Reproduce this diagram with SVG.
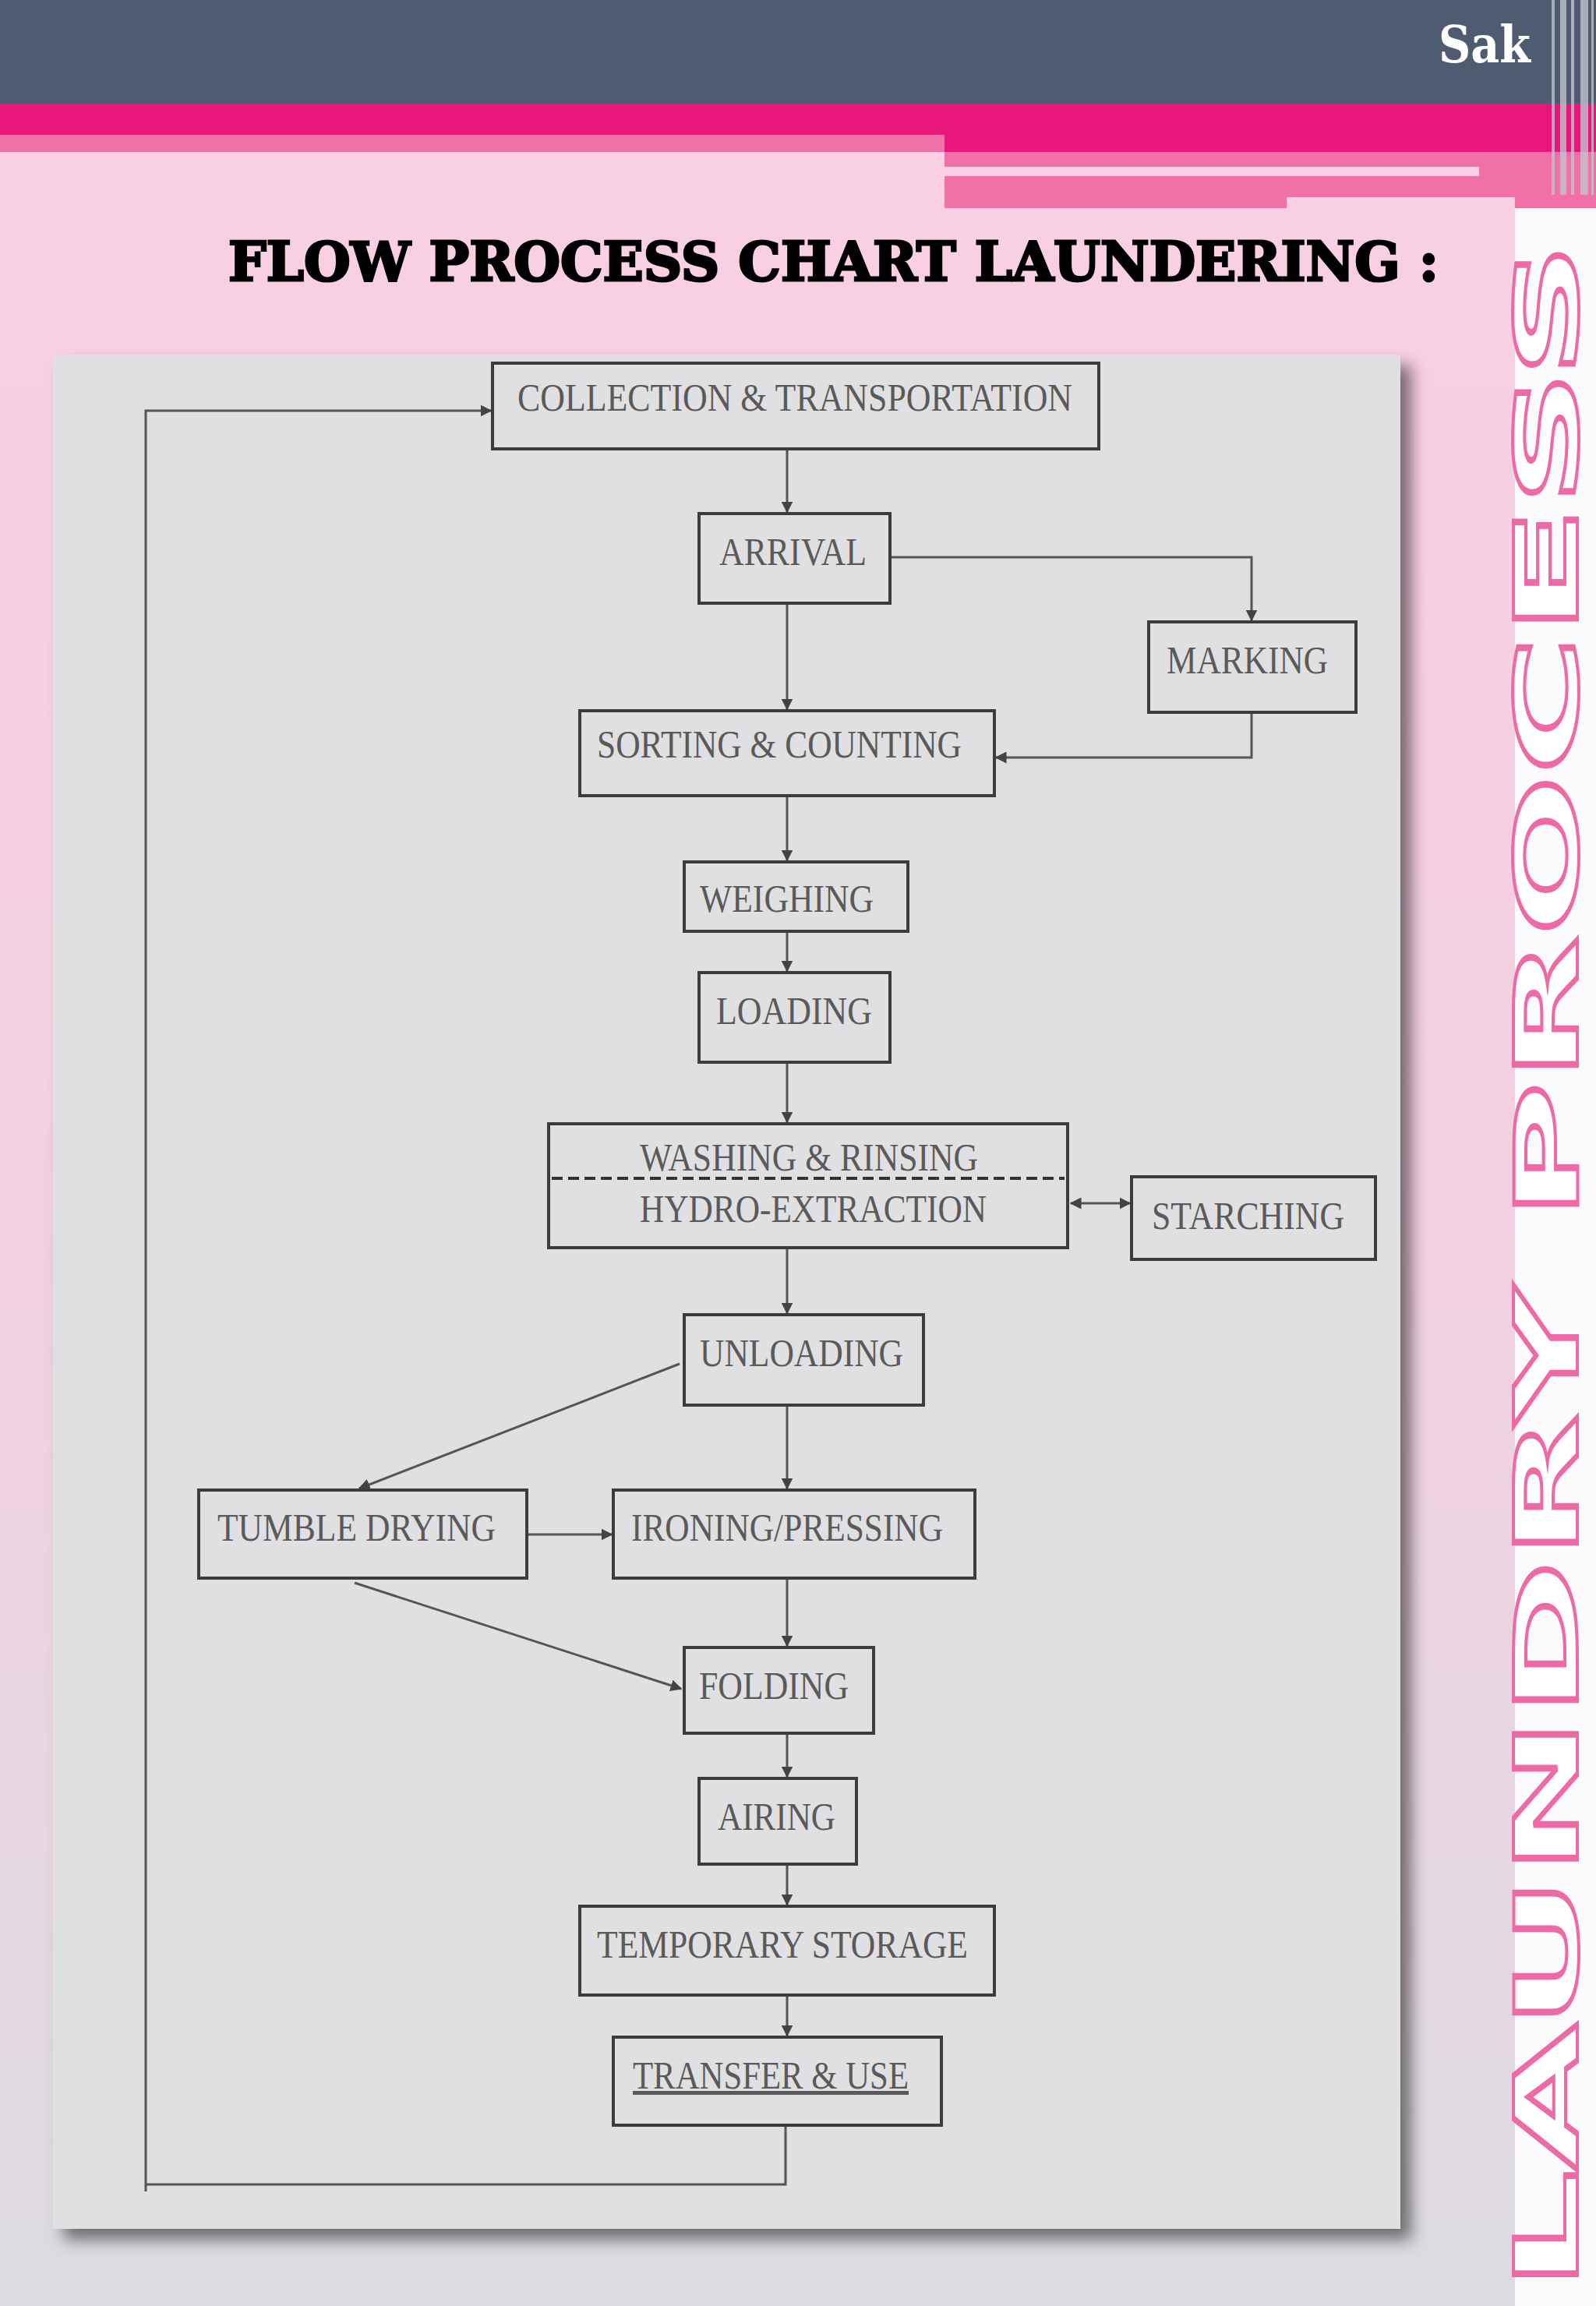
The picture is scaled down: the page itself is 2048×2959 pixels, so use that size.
<svg xmlns="http://www.w3.org/2000/svg" width="2048" height="2959" viewBox="0 0 2048 2959">
<defs>
<linearGradient id="bg" x1="0" y1="0" x2="0" y2="1"><stop offset="0" stop-color="#fbd0e4"/><stop offset="0.5" stop-color="#f3cfe0"/><stop offset="1" stop-color="#dcdbdf"/></linearGradient>
<filter id="sh" x="-5%" y="-5%" width="115%" height="115%"><feGaussianBlur in="SourceAlpha" stdDeviation="10"/><feOffset dx="14" dy="14"/><feComponentTransfer><feFuncA type="linear" slope="0.5"/></feComponentTransfer><feMerge><feMergeNode/><feMergeNode in="SourceGraphic"/></feMerge></filter>
<marker id="ah" viewBox="0 0 10 10" refX="9" refY="5" markerWidth="5" markerHeight="5" orient="auto-start-reverse"><path d="M0,0 L10,5 L0,10 z" fill="#444"/></marker>
<style>
.box{fill:none;stroke:#3c3c3c;stroke-width:4}
.lbl{font-family:"Liberation Serif",serif;font-size:50px;fill:#5a5a5a;text-anchor:start}
.c{fill:none;stroke:#555;stroke-width:3}
</style>
</defs>
<rect width="2048" height="2959" fill="url(#bg)"/>
<rect x="1944" y="250" width="104" height="2709" fill="#fbfbfd"/>
<rect width="2048" height="133" fill="#4f5b70"/>
<rect y="133" width="2048" height="62" fill="#e8177b"/>
<rect y="173" width="1212" height="22" fill="#f070a8"/>
<rect x="1212" y="195" width="836" height="72" fill="#f070a8"/>
<rect x="1212" y="214" width="686" height="12" fill="#fad0e4"/>
<rect x="1651" y="253" width="293" height="14" fill="#fad0e4"/>
<g fill="#c0c4cc" opacity="0.8"><rect x="1991" y="0" width="4" height="250"/><rect x="2002" y="0" width="8" height="250"/><rect x="2016" y="0" width="4" height="250"/><rect x="2028" y="0" width="10" height="250"/><rect x="2042" y="0" width="3" height="250"/></g>
<text x="1846" y="80" font-family="DejaVu Serif,serif" font-weight="bold" font-size="66" fill="#fff" textLength="118" lengthAdjust="spacingAndGlyphs">Sak</text>
<text x="293" y="360" font-family="DejaVu Serif,serif" font-weight="900" font-size="70" fill="#000" stroke="#000" stroke-width="3" textLength="1553" lengthAdjust="spacingAndGlyphs">FLOW PROCESS CHART LAUNDERING :</text>
<text transform="translate(2024,2940) rotate(-90)" font-family="DejaVu Sans,sans-serif" font-weight="bold" font-size="112" fill="#fff" stroke="#ee6aa6" stroke-width="4" textLength="2630" lengthAdjust="spacingAndGlyphs">LAUNDRY  PROCESS</text>
<rect x="68" y="455" width="1729" height="2405" fill="#e0dfe1" filter="url(#sh)"/>
<g id="connectors">
<path class="c" d="M1008,2727 V2803 H187 V2812 M187,2803 V527 H630" marker-end="url(#ah)"/>
<path class="c" d="M1010,576 V657" marker-end="url(#ah)"/>
<path class="c" d="M1142,715 H1606 V796" marker-end="url(#ah)"/>
<path class="c" d="M1606,914 V972 H1278" marker-end="url(#ah)"/>
<path class="c" d="M1010,774 V910" marker-end="url(#ah)"/>
<path class="c" d="M1010,1021 V1104" marker-end="url(#ah)"/>
<path class="c" d="M1010,1195 V1246" marker-end="url(#ah)"/>
<path class="c" d="M1010,1363 V1440" marker-end="url(#ah)"/>
<path class="c" d="M1374,1544 H1450" marker-start="url(#ah)" marker-end="url(#ah)"/>
<path class="c" d="M1010,1601 V1685" marker-end="url(#ah)"/>
<path class="c" d="M872,1750 L461,1910" marker-end="url(#ah)"/>
<path class="c" d="M676,1969 H785" marker-end="url(#ah)"/>
<path class="c" d="M1010,1803 V1910" marker-end="url(#ah)"/>
<path class="c" d="M455,2031 L874,2167" marker-end="url(#ah)"/>
<path class="c" d="M1010,2025 V2112" marker-end="url(#ah)"/>
<path class="c" d="M1010,2224 V2280" marker-end="url(#ah)"/>
<path class="c" d="M1010,2392 V2444" marker-end="url(#ah)"/>
<path class="c" d="M1010,2560 V2612" marker-end="url(#ah)"/>
</g>
<g id="collection"><rect class="box" x="632" y="466" width="778" height="110"/><text class="lbl" x="664" y="527" textLength="712" lengthAdjust="spacingAndGlyphs">COLLECTION &amp; TRANSPORTATION</text></g>
<g id="arrival"><rect class="box" x="897" y="659" width="245" height="115"/><text class="lbl" x="923" y="725" textLength="189" lengthAdjust="spacingAndGlyphs">ARRIVAL</text></g>
<g id="marking"><rect class="box" x="1474" y="798" width="266" height="116"/><text class="lbl" x="1497" y="864" textLength="207" lengthAdjust="spacingAndGlyphs">MARKING</text></g>
<g id="sorting"><rect class="box" x="744" y="912" width="532" height="109"/><text class="lbl" x="766" y="972" textLength="468" lengthAdjust="spacingAndGlyphs">SORTING &amp; COUNTING</text></g>
<g id="weighing"><rect class="box" x="878" y="1106" width="287" height="89"/><text class="lbl" x="898" y="1170" textLength="223" lengthAdjust="spacingAndGlyphs">WEIGHING</text></g>
<g id="loading"><rect class="box" x="897" y="1248" width="245" height="115"/><text class="lbl" x="919" y="1314" textLength="200" lengthAdjust="spacingAndGlyphs">LOADING</text></g>
<g id="washing"><rect class="box" x="704" y="1442" width="666" height="159"/><line x1="708" y1="1512" x2="1366" y2="1512" stroke="#333" stroke-width="4" stroke-dasharray="14,7"/><text class="lbl" x="821" y="1502" textLength="434" lengthAdjust="spacingAndGlyphs">WASHING &amp; RINSING</text><text class="lbl" x="821" y="1568" textLength="445" lengthAdjust="spacingAndGlyphs">HYDRO-EXTRACTION</text></g>
<g id="starching"><rect class="box" x="1452" y="1510" width="313" height="106"/><text class="lbl" x="1478" y="1577" textLength="247" lengthAdjust="spacingAndGlyphs">STARCHING</text></g>
<g id="unloading"><rect class="box" x="878" y="1687" width="307" height="116"/><text class="lbl" x="898" y="1753" textLength="261" lengthAdjust="spacingAndGlyphs">UNLOADING</text></g>
<g id="tumble"><rect class="box" x="255" y="1912" width="421" height="113"/><text class="lbl" x="279" y="1977" textLength="357" lengthAdjust="spacingAndGlyphs">TUMBLE DRYING</text></g>
<g id="ironing"><rect class="box" x="787" y="1912" width="464" height="113"/><text class="lbl" x="810" y="1977" textLength="400" lengthAdjust="spacingAndGlyphs">IRONING/PRESSING</text></g>
<g id="folding"><rect class="box" x="878" y="2114" width="243" height="110"/><text class="lbl" x="897" y="2180" textLength="192" lengthAdjust="spacingAndGlyphs">FOLDING</text></g>
<g id="airing"><rect class="box" x="897" y="2282" width="202" height="110"/><text class="lbl" x="921" y="2348" textLength="151" lengthAdjust="spacingAndGlyphs">AIRING</text></g>
<g id="temporary"><rect class="box" x="744" y="2446" width="532" height="114"/><text class="lbl" x="766" y="2512" textLength="476" lengthAdjust="spacingAndGlyphs">TEMPORARY STORAGE</text></g>
<g id="transfer"><rect class="box" x="787" y="2614" width="421" height="113"/><text class="lbl" x="812" y="2680" textLength="354" lengthAdjust="spacingAndGlyphs" text-decoration="underline">TRANSFER &amp; USE</text></g>
</svg>
